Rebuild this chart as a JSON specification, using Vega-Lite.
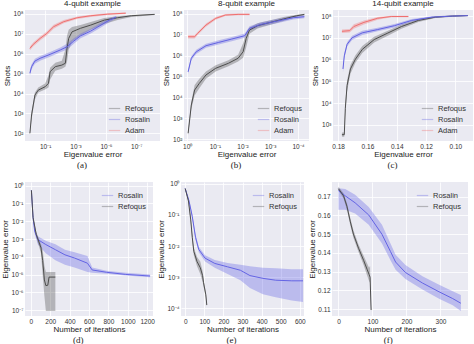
{
"$schema": "https://vega.github.io/schema/vega-lite/v6.json",
"padding": {"left": 1, "right": 0, "top": 0, "bottom": 0},
"background": "white",
"data": {"values": [
{"p":"a","s":"Refoqus","x":1,"y":100,"lo":89,"hi":112},
{"p":"a","s":"Refoqus","x":0.776,"y":832,"lo":501,"hi":1259},
{"p":"a","s":"Refoqus","x":0.468,"y":8318,"lo":5012,"hi":11220},
{"p":"a","s":"Refoqus","x":0.282,"y":14790,"lo":11220,"hi":19950},
{"p":"a","s":"Refoqus","x":0.1,"y":21880,"lo":15850,"hi":31620},
{"p":"a","s":"Refoqus","x":0.0603,"y":32360,"lo":19950,"hi":79430},
{"p":"a","s":"Refoqus","x":0.0468,"y":125900,"lo":50120,"hi":199500},
{"p":"a","s":"Refoqus","x":0.0214,"y":223900,"lo":141300,"hi":354800},
{"p":"a","s":"Refoqus","x":0.00794,"y":269200,"lo":177800,"hi":446700},
{"p":"a","s":"Refoqus","x":0.00468,"y":331100,"lo":223900,"hi":1585000},
{"p":"a","s":"Refoqus","x":0.00363,"y":1862000,"lo":398100,"hi":7943000},
{"p":"a","s":"Refoqus","x":0.00282,"y":5888000,"lo":1585000,"hi":15850000},
{"p":"a","s":"Refoqus","x":0.0017,"y":12590000,"lo":3981000,"hi":22390000},
{"p":"a","s":"Refoqus","x":0.000468,"y":19050000,"lo":7943000,"hi":28180000},
{"p":"a","s":"Refoqus","x":0.0001,"y":27540000,"lo":15850000,"hi":39810000},
{"p":"a","s":"Refoqus","x":1.29e-5,"y":48980000,"lo":31620000,"hi":63100000},
{"p":"a","s":"Refoqus","x":1.7e-6,"y":64570000,"lo":50120000,"hi":75860000},
{"p":"a","s":"Refoqus","x":2.14e-7,"y":81280000,"lo":70790000,"hi":89130000},
{"p":"a","s":"Refoqus","x":6.3e-9,"y":95500000,"lo":89130000,"hi":100000000},
{"p":"a","s":"Rosalin","x":1,"y":104700,"lo":79430,"hi":138000},
{"p":"a","s":"Rosalin","x":0.776,"y":223900,"lo":166000,"hi":295100},
{"p":"a","s":"Rosalin","x":0.468,"y":426600,"lo":316200,"hi":562300},
{"p":"a","s":"Rosalin","x":0.214,"y":588800,"lo":446700,"hi":776200},
{"p":"a","s":"Rosalin","x":0.0468,"y":933300,"lo":707900,"hi":1230000},
{"p":"a","s":"Rosalin","x":0.01,"y":1549000,"lo":1175000,"hi":2042000},
{"p":"a","s":"Rosalin","x":0.00363,"y":2239000,"lo":1585000,"hi":3162000},
{"p":"a","s":"Rosalin","x":0.00129,"y":4365000,"lo":3162000,"hi":6026000},
{"p":"a","s":"Rosalin","x":0.000468,"y":7943000,"lo":6026000,"hi":10470000},
{"p":"a","s":"Rosalin","x":0.0001,"y":13800000,"lo":10470000,"hi":18200000},
{"p":"a","s":"Rosalin","x":2.14e-5,"y":27500000,"lo":20900000,"hi":36300000},
{"p":"a","s":"Rosalin","x":6.03e-6,"y":49000000,"lo":38000000,"hi":63100000},
{"p":"a","s":"Rosalin","x":2.14e-6,"y":69200000,"lo":57500000,"hi":79400000},
{"p":"a","s":"Adam","x":1,"y":1862000,"lo":1479000,"hi":2344000},
{"p":"a","s":"Adam","x":0.603,"y":2951000,"lo":2344000,"hi":3715000},
{"p":"a","s":"Adam","x":0.214,"y":5888000,"lo":4677000,"hi":7413000},
{"p":"a","s":"Adam","x":0.0776,"y":10470000,"lo":8318000,"hi":13180000},
{"p":"a","s":"Adam","x":0.0275,"y":22910000,"lo":18200000,"hi":28840000},
{"p":"a","s":"Adam","x":0.00603,"y":40740000,"lo":33880000,"hi":48980000},
{"p":"a","s":"Adam","x":0.000776,"y":64570000,"lo":56230000,"hi":74130000},
{"p":"a","s":"Adam","x":0.0001,"y":81280000,"lo":70790000,"hi":91200000},
{"p":"a","s":"Adam","x":7.76e-6,"y":97700000,"lo":89100000,"hi":107000000},
{"p":"a","s":"Adam","x":5.01e-7,"y":109600000,"lo":100000000,"hi":120000000},
{"p":"b","s":"Refoqus","x":0.923,"y":195,"lo":158,"hi":240},
{"p":"b","s":"Refoqus","x":0.708,"y":4365,"lo":2818,"hi":6310},
{"p":"b","s":"Refoqus","x":0.537,"y":22910,"lo":12590,"hi":39810},
{"p":"b","s":"Refoqus","x":0.363,"y":47860,"lo":28180,"hi":79430},
{"p":"b","s":"Refoqus","x":0.209,"y":120200,"lo":79430,"hi":177800},
{"p":"b","s":"Refoqus","x":0.0933,"y":251200,"lo":177800,"hi":354800},
{"p":"b","s":"Refoqus","x":0.0324,"y":436500,"lo":316200,"hi":602600},
{"p":"b","s":"Refoqus","x":0.0145,"y":758600,"lo":524800,"hi":1122000},
{"p":"b","s":"Refoqus","x":0.00955,"y":1549000,"lo":794300,"hi":3981000},
{"p":"b","s":"Refoqus","x":0.00741,"y":6761000,"lo":2512000,"hi":12590000},
{"p":"b","s":"Refoqus","x":0.00562,"y":16980000,"lo":11220000,"hi":22390000},
{"p":"b","s":"Refoqus","x":0.00288,"y":27540000,"lo":19950000,"hi":36310000},
{"p":"b","s":"Refoqus","x":0.000977,"y":39810000,"lo":30200000,"hi":50120000},
{"p":"b","s":"Refoqus","x":0.000331,"y":57540000,"lo":45710000,"hi":70790000},
{"p":"b","s":"Refoqus","x":0.000115,"y":81280000,"lo":70790000,"hi":91200000},
{"p":"b","s":"Refoqus","x":5.89e-5,"y":95500000,"lo":87100000,"hi":102300000},
{"p":"b","s":"Rosalin","x":0.923,"y":169800,"lo":134900,"hi":213800},
{"p":"b","s":"Rosalin","x":0.708,"y":758600,"lo":602600,"hi":955000},
{"p":"b","s":"Rosalin","x":0.468,"y":1549000,"lo":1230000,"hi":1950000},
{"p":"b","s":"Rosalin","x":0.209,"y":3020000,"lo":2399000,"hi":3802000},
{"p":"b","s":"Rosalin","x":0.0724,"y":4365000,"lo":3467000,"hi":5495000},
{"p":"b","s":"Rosalin","x":0.0245,"y":6310000,"lo":5012000,"hi":7943000},
{"p":"b","s":"Rosalin","x":0.00832,"y":9120000,"lo":7244000,"hi":11480000},
{"p":"b","s":"Rosalin","x":0.00562,"y":20420000,"lo":16220000,"hi":25700000},
{"p":"b","s":"Rosalin","x":0.00219,"y":31620000,"lo":25120000,"hi":39810000},
{"p":"b","s":"Rosalin","x":0.000575,"y":45710000,"lo":36310000,"hi":57540000},
{"p":"b","s":"Rosalin","x":0.000148,"y":66070000,"lo":54950000,"hi":79430000},
{"p":"b","s":"Rosalin","x":5.89e-5,"y":74130000,"lo":63100000,"hi":87100000},
{"p":"b","s":"Adam","x":0.923,"y":8128000,"lo":6761000,"hi":9772000},
{"p":"b","s":"Adam","x":0.537,"y":8128000,"lo":6761000,"hi":9772000},
{"p":"b","s":"Adam","x":0.417,"y":11750000,"lo":9772000,"hi":14130000},
{"p":"b","s":"Adam","x":0.209,"y":29510000,"lo":24550000,"hi":35480000},
{"p":"b","s":"Adam","x":0.0933,"y":61660000,"lo":52480000,"hi":72440000},
{"p":"b","s":"Adam","x":0.0417,"y":89130000,"lo":79430000,"hi":100000000},
{"p":"b","s":"Adam","x":0.0145,"y":95500000,"lo":87100000,"hi":104700000},
{"p":"b","s":"Adam","x":0.00562,"y":95500000,"lo":87100000,"hi":104700000},
{"p":"c","s":"Refoqus","x":0.1774,"y":355,"lo":282,"hi":447},
{"p":"c","s":"Refoqus","x":0.1758,"y":355,"lo":282,"hi":447},
{"p":"c","s":"Refoqus","x":0.1751,"y":5754,"lo":3162,"hi":10000},
{"p":"c","s":"Refoqus","x":0.1739,"y":64570,"lo":35480,"hi":112200},
{"p":"c","s":"Refoqus","x":0.1716,"y":371500,"lo":223900,"hi":562300},
{"p":"c","s":"Refoqus","x":0.1682,"y":1047000,"lo":707900,"hi":1585000},
{"p":"c","s":"Refoqus","x":0.1635,"y":2951000,"lo":1995000,"hi":4169000},
{"p":"c","s":"Refoqus","x":0.1554,"y":8318000,"lo":6026000,"hi":11220000},
{"p":"c","s":"Refoqus","x":0.1461,"y":16600000,"lo":12590000,"hi":21380000},
{"p":"c","s":"Refoqus","x":0.1368,"y":33110000,"lo":26300000,"hi":40740000},
{"p":"c","s":"Refoqus","x":0.1252,"y":63100000,"lo":53700000,"hi":72440000},
{"p":"c","s":"Refoqus","x":0.1136,"y":89130000,"lo":81280000,"hi":97720000},
{"p":"c","s":"Refoqus","x":0.1019,"y":100000000,"lo":93000000,"hi":107000000},
{"p":"c","s":"Refoqus","x":0.0915,"y":104700000,"lo":100000000,"hi":110000000},
{"p":"c","s":"Rosalin","x":0.1767,"y":371500,"lo":251200,"hi":501200},
{"p":"c","s":"Rosalin","x":0.1758,"y":1479000,"lo":1122000,"hi":1995000},
{"p":"c","s":"Rosalin","x":0.1739,"y":5012000,"lo":3981000,"hi":6310000},
{"p":"c","s":"Rosalin","x":0.1705,"y":10000000,"lo":7943000,"hi":12590000},
{"p":"c","s":"Rosalin","x":0.1635,"y":16980000,"lo":13490000,"hi":21380000},
{"p":"c","s":"Rosalin","x":0.153,"y":23990000,"lo":19950000,"hi":28840000},
{"p":"c","s":"Rosalin","x":0.1415,"y":36310000,"lo":30200000,"hi":43650000},
{"p":"c","s":"Rosalin","x":0.1298,"y":63100000,"lo":54950000,"hi":72440000},
{"p":"c","s":"Rosalin","x":0.1159,"y":89130000,"lo":81280000,"hi":97720000},
{"p":"c","s":"Rosalin","x":0.1019,"y":100000000,"lo":93000000,"hi":107000000},
{"p":"c","s":"Rosalin","x":0.0915,"y":104700000,"lo":100000000,"hi":110000000},
{"p":"c","s":"Adam","x":0.1774,"y":19950000,"lo":16600000,"hi":23990000},
{"p":"c","s":"Adam","x":0.1721,"y":21380000,"lo":17780000,"hi":25700000},
{"p":"c","s":"Adam","x":0.1693,"y":33110000,"lo":26300000,"hi":41690000},
{"p":"c","s":"Adam","x":0.1624,"y":51290000,"lo":40740000,"hi":63100000},
{"p":"c","s":"Adam","x":0.153,"y":79430000,"lo":67610000,"hi":91200000},
{"p":"c","s":"Adam","x":0.1438,"y":95500000,"lo":87100000,"hi":104700000},
{"p":"c","s":"Adam","x":0.1321,"y":95500000,"lo":87100000,"hi":104700000},
{"p":"d","s":"Rosalin","x":6,"y":0.55,"lo":0.49,"hi":0.617},
{"p":"d","s":"Rosalin","x":23,"y":0.0162,"lo":0.0129,"hi":0.0204},
{"p":"d","s":"Rosalin","x":40,"y":0.00282,"lo":0.002,"hi":0.00355},
{"p":"d","s":"Rosalin","x":72,"y":0.000933,"lo":0.000501,"hi":0.00141},
{"p":"d","s":"Rosalin","x":154,"y":0.00049,"lo":0.000158,"hi":0.000794},
{"p":"d","s":"Rosalin","x":253,"y":0.000251,"lo":6.31e-5,"hi":0.000501},
{"p":"d","s":"Rosalin","x":352,"y":0.000129,"lo":3.55e-5,"hi":0.000251},
{"p":"d","s":"Rosalin","x":451,"y":8.51e-5,"lo":2.51e-5,"hi":0.000178},
{"p":"d","s":"Rosalin","x":584,"y":4.37e-5,"lo":1.41e-5,"hi":0.000112},
{"p":"d","s":"Rosalin","x":633,"y":1.82e-5,"lo":1.26e-5,"hi":2.51e-5},
{"p":"d","s":"Rosalin","x":781,"y":1.35e-5,"lo":1.12e-5,"hi":1.66e-5},
{"p":"d","s":"Rosalin","x":979,"y":1.02e-5,"lo":8.91e-6,"hi":1.26e-5},
{"p":"d","s":"Rosalin","x":1230,"y":8.32e-6,"lo":7.08e-6,"hi":1e-5},
{"p":"d","s":"Refoqus","x":6,"y":0.55,"lo":0.49,"hi":0.617},
{"p":"d","s":"Refoqus","x":23,"y":0.0162,"lo":0.0129,"hi":0.0204},
{"p":"d","s":"Refoqus","x":56,"y":0.00182,"lo":0.00126,"hi":0.00251},
{"p":"d","s":"Refoqus","x":105,"y":0.000316,"lo":0.000158,"hi":0.000501},
{"p":"d","s":"Refoqus","x":122,"y":6.31e-5,"lo":1e-5,"hi":0.000251},
{"p":"d","s":"Refoqus","x":140,"y":5.01e-6,"lo":6.31e-7,"hi":3.16e-5},
{"p":"d","s":"Refoqus","x":155,"y":2.4e-6,"lo":8.9e-8,"hi":1.38e-5},
{"p":"d","s":"Refoqus","x":175,"y":2.51e-6,"lo":8.9e-8,"hi":1.38e-5},
{"p":"d","s":"Refoqus","x":188,"y":7.24e-6,"lo":8.9e-8,"hi":1.38e-5},
{"p":"d","s":"Refoqus","x":253,"y":7.24e-6,"lo":8.9e-8,"hi":1.38e-5},
{"p":"e","s":"Rosalin","x":0,"y":0.708,"lo":0.661,"hi":0.759},
{"p":"e","s":"Rosalin","x":20,"y":0.282,"lo":0.251,"hi":0.316},
{"p":"e","s":"Rosalin","x":37,"y":0.0891,"lo":0.0759,"hi":0.105},
{"p":"e","s":"Rosalin","x":54,"y":0.0191,"lo":0.0158,"hi":0.024},
{"p":"e","s":"Rosalin","x":71,"y":0.00776,"lo":0.00631,"hi":0.00955},
{"p":"e","s":"Rosalin","x":104,"y":0.00407,"lo":0.00316,"hi":0.00501},
{"p":"e","s":"Rosalin","x":155,"y":0.00275,"lo":0.002,"hi":0.00355},
{"p":"e","s":"Rosalin","x":222,"y":0.00214,"lo":0.00126,"hi":0.00282},
{"p":"e","s":"Rosalin","x":289,"y":0.00166,"lo":0.000794,"hi":0.00251},
{"p":"e","s":"Rosalin","x":339,"y":0.00112,"lo":0.000447,"hi":0.00224},
{"p":"e","s":"Rosalin","x":407,"y":0.000912,"lo":0.000282,"hi":0.002},
{"p":"e","s":"Rosalin","x":474,"y":0.000794,"lo":0.000224,"hi":0.00191},
{"p":"e","s":"Rosalin","x":558,"y":0.000759,"lo":0.000178,"hi":0.00178},
{"p":"e","s":"Rosalin","x":617,"y":0.000759,"lo":0.000158,"hi":0.00178},
{"p":"e","s":"Refoqus","x":0,"y":0.708,"lo":0.661,"hi":0.759},
{"p":"e","s":"Refoqus","x":17,"y":0.282,"lo":0.251,"hi":0.316},
{"p":"e","s":"Refoqus","x":29,"y":0.0692,"lo":0.0562,"hi":0.0851},
{"p":"e","s":"Refoqus","x":37,"y":0.0191,"lo":0.0141,"hi":0.0251},
{"p":"e","s":"Refoqus","x":45,"y":0.00676,"lo":0.00501,"hi":0.00891},
{"p":"e","s":"Refoqus","x":62,"y":0.00316,"lo":0.00224,"hi":0.00447},
{"p":"e","s":"Refoqus","x":79,"y":0.002,"lo":0.00126,"hi":0.00316},
{"p":"e","s":"Refoqus","x":91,"y":0.00112,"lo":0.000708,"hi":0.00158},
{"p":"e","s":"Refoqus","x":96,"y":0.000661,"lo":0.000501,"hi":0.000891},
{"p":"e","s":"Refoqus","x":108,"y":0.000269,"lo":0.000224,"hi":0.000316},
{"p":"e","s":"Refoqus","x":113,"y":0.000126,"lo":0.000112,"hi":0.000141},
{"p":"f","s":"Rosalin","x":0,"y":0.1732,"lo":0.163,"hi":0.1745},
{"p":"f","s":"Rosalin","x":20,"y":0.1704,"lo":0.163,"hi":0.174},
{"p":"f","s":"Rosalin","x":49,"y":0.1667,"lo":0.161,"hi":0.171},
{"p":"f","s":"Rosalin","x":89,"y":0.1602,"lo":0.155,"hi":0.1645},
{"p":"f","s":"Rosalin","x":128,"y":0.1499,"lo":0.145,"hi":0.155},
{"p":"f","s":"Rosalin","x":153,"y":0.1407,"lo":0.136,"hi":0.145},
{"p":"f","s":"Rosalin","x":168,"y":0.1351,"lo":0.131,"hi":0.139},
{"p":"f","s":"Rosalin","x":197,"y":0.1295,"lo":0.126,"hi":0.1335},
{"p":"f","s":"Rosalin","x":247,"y":0.1239,"lo":0.1205,"hi":0.1275},
{"p":"f","s":"Rosalin","x":296,"y":0.1192,"lo":0.1155,"hi":0.123},
{"p":"f","s":"Rosalin","x":336,"y":0.1156,"lo":0.112,"hi":0.1195},
{"p":"f","s":"Rosalin","x":360,"y":0.1131,"lo":0.109,"hi":0.1175},
{"p":"f","s":"Refoqus","x":0,"y":0.1742,"lo":0.1732,"hi":0.1752},
{"p":"f","s":"Refoqus","x":15,"y":0.1704,"lo":0.169,"hi":0.1718},
{"p":"f","s":"Refoqus","x":25,"y":0.1648,"lo":0.163,"hi":0.1665},
{"p":"f","s":"Refoqus","x":35,"y":0.1565,"lo":0.1545,"hi":0.1585},
{"p":"f","s":"Refoqus","x":44,"y":0.15,"lo":0.148,"hi":0.152},
{"p":"f","s":"Refoqus","x":59,"y":0.1425,"lo":0.1405,"hi":0.1445},
{"p":"f","s":"Refoqus","x":74,"y":0.136,"lo":0.1335,"hi":0.1385},
{"p":"f","s":"Refoqus","x":84,"y":0.1313,"lo":0.128,"hi":0.1345},
{"p":"f","s":"Refoqus","x":90,"y":0.1285,"lo":0.125,"hi":0.132},
{"p":"f","s":"Refoqus","x":93,"y":0.127,"lo":0.124,"hi":0.133},
{"p":"f","s":"Refoqus","x":96,"y":0.1095,"lo":0.1085,"hi":0.1105}
]},
"vconcat": [
 {"hconcat": [
  {"vconcat": [{
   "width": 135, "height": 131,
   "title": {"text": "4-qubit example"},
   "transform": [{"filter": "datum.p == 'a'"}],
   "encoding": {"x": {"field": "x", "type": "quantitative", "scale": {"type": "log", "domain": [2.8e-9, 2.1], "reverse": true, "nice": false}, "axis": {"title": "Eigenvalue error", "values": [0.1, 0.001, 1e-5, 1e-7], "labelExpr": "'10' + replace(replace(replace(replace(replace(replace(replace(replace(replace(replace(replace('' + round(log(datum.value)/LN10), '-', '⁻'), '0', '⁰'), '1', '¹'), '2', '²'), '3', '³'), '4', '⁴'), '5', '⁵'), '6', '⁶'), '7', '⁷'), '8', '⁸'), '9', '⁹')"}},
     "color": {"field": "s", "type": "nominal", "scale": {"domain": ["Refoqus", "Rosalin", "Adam"], "range": ["#4d4d4d", "#6262e2", "#f07070"]}, "legend": {"title": null, "orient": "bottom-right"}}},
   "layer": [
    {"mark": {"type": "area", "opacity": 0.35, "clip": true}, "encoding": {"y": {"field": "lo", "type": "quantitative", "title": "Shots", "scale": {"type": "log", "domain": [41, 1.58e8], "nice": false}, "axis": {"values": [100, 1000, 10000, 100000, 1000000, 10000000, 100000000], "labelExpr": "'10' + replace(replace(replace(replace(replace(replace(replace(replace(replace(replace(replace('' + round(log(datum.value)/LN10), '-', '⁻'), '0', '⁰'), '1', '¹'), '2', '²'), '3', '³'), '4', '⁴'), '5', '⁵'), '6', '⁶'), '7', '⁷'), '8', '⁸'), '9', '⁹')"}}, "y2": {"field": "hi"}}},
    {"mark": {"type": "line", "strokeWidth": 1, "clip": true}, "encoding": {"y": {"field": "y", "type": "quantitative", "title": "Shots"}}}
   ]
  }], "resolve": {"scale": {"color": "independent"}, "legend": {"color": "independent"}}, "title": {"text": "(a)", "orient": "bottom", "anchor": "middle", "font": "Liberation Serif", "fontSize": 9, "offset": 2}},
  {"vconcat": [{
   "width": 125, "height": 131,
   "title": {"text": "8-qubit example"},
   "transform": [{"filter": "datum.p == 'b'"}],
   "encoding": {"x": {"field": "x", "type": "quantitative", "scale": {"type": "log", "domain": [4.0e-5, 1.3], "reverse": true, "nice": false}, "axis": {"title": "Eigenvalue error", "values": [1, 0.1, 0.01, 0.001, 0.0001], "labelExpr": "'10' + replace(replace(replace(replace(replace(replace(replace(replace(replace(replace(replace('' + round(log(datum.value)/LN10), '-', '⁻'), '0', '⁰'), '1', '¹'), '2', '²'), '3', '³'), '4', '⁴'), '5', '⁵'), '6', '⁶'), '7', '⁷'), '8', '⁸'), '9', '⁹')"}},
     "color": {"field": "s", "type": "nominal", "scale": {"domain": ["Refoqus", "Rosalin", "Adam"], "range": ["#4d4d4d", "#6262e2", "#f07070"]}, "legend": {"title": null, "orient": "bottom-right"}}},
   "layer": [
    {"mark": {"type": "area", "opacity": 0.35, "clip": true}, "encoding": {"y": {"field": "lo", "type": "quantitative", "title": "Shots", "scale": {"type": "log", "domain": [83, 1.55e8], "nice": false}, "axis": {"values": [100, 1000, 10000, 100000, 1000000, 10000000, 100000000], "labelExpr": "'10' + replace(replace(replace(replace(replace(replace(replace(replace(replace(replace(replace('' + round(log(datum.value)/LN10), '-', '⁻'), '0', '⁰'), '1', '¹'), '2', '²'), '3', '³'), '4', '⁴'), '5', '⁵'), '6', '⁶'), '7', '⁷'), '8', '⁸'), '9', '⁹')"}}, "y2": {"field": "hi"}}},
    {"mark": {"type": "line", "strokeWidth": 1, "clip": true}, "encoding": {"y": {"field": "y", "type": "quantitative", "title": "Shots"}}}
   ]
  }], "resolve": {"scale": {"color": "independent"}, "legend": {"color": "independent"}}, "title": {"text": "(b)", "orient": "bottom", "anchor": "middle", "font": "Liberation Serif", "fontSize": 9, "offset": 2}},
  {"vconcat": [{
   "width": 140, "height": 131,
   "title": {"text": "14-qubit example"},
   "transform": [{"filter": "datum.p == 'c'"}],
   "encoding": {"x": {"field": "x", "type": "quantitative", "scale": {"domain": [0.088, 0.1835], "reverse": true, "nice": false, "zero": false}, "axis": {"title": "Eigenvalue error", "values": [0.18, 0.16, 0.14, 0.12, 0.10], "format": ".2f"}},
     "color": {"field": "s", "type": "nominal", "scale": {"domain": ["Refoqus", "Rosalin", "Adam"], "range": ["#4d4d4d", "#6262e2", "#f07070"]}, "legend": {"title": null, "orient": "bottom-right"}}},
   "layer": [
    {"mark": {"type": "area", "opacity": 0.35, "clip": true}, "encoding": {"y": {"field": "lo", "type": "quantitative", "title": "Shots", "scale": {"type": "log", "domain": [182, 1.9e8], "nice": false}, "axis": {"values": [1000, 10000, 100000, 1000000, 10000000, 100000000], "labelExpr": "'10' + replace(replace(replace(replace(replace(replace(replace(replace(replace(replace(replace('' + round(log(datum.value)/LN10), '-', '⁻'), '0', '⁰'), '1', '¹'), '2', '²'), '3', '³'), '4', '⁴'), '5', '⁵'), '6', '⁶'), '7', '⁷'), '8', '⁸'), '9', '⁹')"}}, "y2": {"field": "hi"}}},
    {"mark": {"type": "line", "strokeWidth": 1, "clip": true}, "encoding": {"y": {"field": "y", "type": "quantitative", "title": "Shots"}}}
   ]
  }], "resolve": {"scale": {"color": "independent"}, "legend": {"color": "independent"}}, "title": {"text": "(c)", "orient": "bottom", "anchor": "middle", "font": "Liberation Serif", "fontSize": 9, "offset": 2}}
 ], "spacing": 2, "resolve": {"scale": {"x": "independent", "y": "independent", "color": "independent"}, "legend": {"color": "independent"}}},
 {"hconcat": [
  {"vconcat": [{
   "width": 128, "height": 134,
   "transform": [{"filter": "datum.p == 'd'"}],
   "encoding": {"x": {"field": "x", "type": "quantitative", "scale": {"domain": [-60, 1260], "nice": false, "zero": false}, "axis": {"title": "Number of iterations", "values": [0, 200, 400, 600, 800, 1000, 1200], "format": "d"}},
     "color": {"field": "s", "type": "nominal", "scale": {"domain": ["Rosalin", "Refoqus"], "range": ["#6464e4", "#4d4d4d"]}, "legend": {"title": null, "orient": "top-right"}}},
   "layer": [
    {"mark": {"type": "area", "opacity": 0.35, "clip": true}, "encoding": {"y": {"field": "lo", "type": "quantitative", "title": "Eigenvalue error", "scale": {"type": "log", "domain": [4.7e-8, 1.6], "nice": false}, "axis": {"values": [1, 0.1, 0.01, 0.001, 0.0001, 1e-5, 1e-6, 1e-7], "labelOverlap": false, "labelExpr": "'10' + replace(replace(replace(replace(replace(replace(replace(replace(replace(replace(replace('' + round(log(datum.value)/LN10), '-', '⁻'), '0', '⁰'), '1', '¹'), '2', '²'), '3', '³'), '4', '⁴'), '5', '⁵'), '6', '⁶'), '7', '⁷'), '8', '⁸'), '9', '⁹')"}}, "y2": {"field": "hi"}}},
    {"mark": {"type": "line", "strokeWidth": 1, "clip": true}, "encoding": {"y": {"field": "y", "type": "quantitative", "title": "Eigenvalue error"}}}
   ]
  }], "resolve": {"scale": {"color": "independent"}, "legend": {"color": "independent"}}, "title": {"text": "(d)", "orient": "bottom", "anchor": "middle", "font": "Liberation Serif", "fontSize": 9, "offset": 2}},
  {"vconcat": [{
   "width": 123, "height": 134,
   "transform": [{"filter": "datum.p == 'e'"}],
   "encoding": {"x": {"field": "x", "type": "quantitative", "scale": {"domain": [-22, 622], "nice": false, "zero": false}, "axis": {"title": "Number of iterations", "values": [0, 100, 200, 300, 400, 500, 600]}},
     "color": {"field": "s", "type": "nominal", "scale": {"domain": ["Rosalin", "Refoqus"], "range": ["#6464e4", "#4d4d4d"]}, "legend": {"title": null, "orient": "top-right"}}},
   "layer": [
    {"mark": {"type": "area", "opacity": 0.35, "clip": true}, "encoding": {"y": {"field": "lo", "type": "quantitative", "title": "Eigenvalue error", "scale": {"type": "log", "domain": [5.6e-5, 1.15], "nice": false}, "axis": {"values": [1, 0.1, 0.01, 0.001, 0.0001], "labelOverlap": false, "labelExpr": "'10' + replace(replace(replace(replace(replace(replace(replace(replace(replace(replace(replace('' + round(log(datum.value)/LN10), '-', '⁻'), '0', '⁰'), '1', '¹'), '2', '²'), '3', '³'), '4', '⁴'), '5', '⁵'), '6', '⁶'), '7', '⁷'), '8', '⁸'), '9', '⁹')"}}, "y2": {"field": "hi"}}},
    {"mark": {"type": "line", "strokeWidth": 1, "clip": true}, "encoding": {"y": {"field": "y", "type": "quantitative", "title": "Eigenvalue error"}}}
   ]
  }], "resolve": {"scale": {"color": "independent"}, "legend": {"color": "independent"}}, "title": {"text": "(e)", "orient": "bottom", "anchor": "middle", "font": "Liberation Serif", "fontSize": 9, "offset": 2}},
  {"vconcat": [{
   "width": 136, "height": 134,
   "transform": [{"filter": "datum.p == 'f'"}],
   "encoding": {"x": {"field": "x", "type": "quantitative", "scale": {"domain": [-19, 381], "nice": false, "zero": false}, "axis": {"title": "Number of iterations", "values": [0, 100, 200, 300]}},
     "color": {"field": "s", "type": "nominal", "scale": {"domain": ["Rosalin", "Refoqus"], "range": ["#6464e4", "#4d4d4d"]}, "legend": {"title": null, "orient": "top-right"}}},
   "layer": [
    {"mark": {"type": "area", "opacity": 0.35, "clip": true}, "encoding": {"y": {"field": "lo", "type": "quantitative", "title": "Eigenvalue error", "scale": {"domain": [0.1063, 0.1778], "nice": false, "zero": false}, "axis": {"values": [0.11, 0.12, 0.13, 0.14, 0.15, 0.16, 0.17], "format": ".2f", "labelOverlap": false, "tickCount": 7}}, "y2": {"field": "hi"}}},
    {"mark": {"type": "line", "strokeWidth": 1, "clip": true}, "encoding": {"y": {"field": "y", "type": "quantitative", "title": "Eigenvalue error", "axis": {"values": [0.11, 0.12, 0.13, 0.14, 0.15, 0.16, 0.17], "format": ".2f", "labelOverlap": false, "tickCount": 7}}}}
   ]
  }], "resolve": {"scale": {"color": "independent"}, "legend": {"color": "independent"}}, "title": {"text": "(f)", "orient": "bottom", "anchor": "middle", "font": "Liberation Serif", "fontSize": 9, "offset": 2}}
 ], "spacing": 2, "resolve": {"scale": {"x": "independent", "y": "independent", "color": "independent"}, "legend": {"color": "independent"}}}
],
"spacing": 10,
"resolve": {"scale": {"x": "independent", "y": "independent", "color": "independent"}, "legend": {"color": "independent"}},
"config": {
 "font": "Liberation Sans",
 "view": {"fill": "#EAEAF2", "stroke": null},
 "axis": {"domain": false, "ticks": false, "grid": true, "gridColor": "#ffffff", "gridWidth": 0.8, "labelFontSize": 6.5, "labelColor": "#333333", "labelOverlap": false, "titleFontSize": 8, "titleFontWeight": "normal", "titleColor": "#222222", "labelPadding": 2, "titlePadding": 1},
 "legend": {"symbolType": "stroke", "symbolSize": 130, "symbolStrokeWidth": 1.2, "labelFontSize": 7.5, "labelColor": "#333333", "rowPadding": 1, "padding": 2, "offset": 5, "labelOffset": 4},
 "title": {"fontSize": 8, "fontWeight": "normal", "color": "#222222", "offset": 2}
}
}
